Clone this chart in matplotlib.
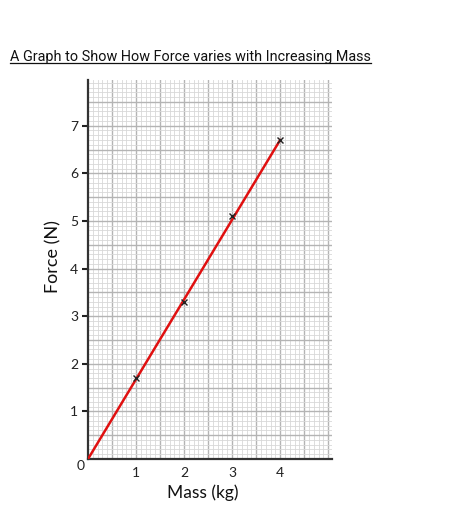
import matplotlib.pyplot as plt
import numpy as np

# measured points
mass = [1, 2, 3, 4]
force = [1.7, 3.3, 5.1, 6.7]
# line of best fit through origin
fit_x = [0, 4]
fit_y = [0, 6.7]

x_ticks = [1, 2, 3, 4]
y_ticks = [1, 2, 3, 4, 5, 6, 7]

plt.rcParams['font.family'] = ['Lato', 'DejaVu Sans']

fig = plt.figure(figsize=(4.74, 5.13), dpi=100)
ax = fig.add_axes([0.1857, 0.1053, 0.5147, 0.7387])
ax.set_xlim(0, 5.08)
ax.set_ylim(0, 7.96)

# graph paper grid
for v in np.arange(0.1, 5.1, 0.1):
    major = abs(v * 2 - round(v * 2)) < 1e-6
    ax.axvline(v, color='#b4b4b4' if major else '#d8d8d8', lw=1.0 if major else 0.6, zorder=0)
for v in np.arange(0.1, 8.0, 0.1):
    major = abs(v * 2 - round(v * 2)) < 1e-6
    ax.axhline(v, color='#b4b4b4' if major else '#d8d8d8', lw=1.0 if major else 0.6, zorder=0)

ax.plot(fit_x, fit_y, color='#e01010', lw=1.8, zorder=3)
ax.plot(mass, force, 'x', color='#222222', ms=4, mew=1.0, zorder=4)

for s in ['top', 'right']:
    ax.spines[s].set_visible(False)
for s in ['left', 'bottom']:
    ax.spines[s].set_color('#333333')
    ax.spines[s].set_linewidth(1.6)

ax.set_xticks(x_ticks)
ax.set_yticks(y_ticks)
ax.tick_params(axis='x', length=0, pad=6, labelsize=10, colors='#222222')
ax.tick_params(axis='y', length=4, width=1.5, pad=3, labelsize=10, colors='#222222')
ax.text(-0.08, -0.02, '0', ha='right', va='top', fontsize=10, color='#222222')

ax.set_xlabel('Mass (kg)', fontsize=12.5, color='#111111', va='center')
ax.xaxis.set_label_coords(0.471, -0.0897)
ax.set_ylabel('Force (N)', fontsize=13, color='#111111', va='center')
ax.yaxis.set_label_coords(-0.143, 0.533)

t = fig.text(10 / 474, 1 - 57 / 513, 'A Graph to Show How Force varies with Increasing Mass',
             fontsize=10.4, va='center', ha='left', color='#111111',
             family=['Roboto', 'DejaVu Sans'])
fig.canvas.draw()
bb = t.get_window_extent()
inv = fig.transFigure.inverted()
(x0, y0), (x1, y1) = inv.transform([[bb.x0, bb.y0], [bb.x1, bb.y1]])
fig.add_artist(plt.Line2D([x0, x1], [y0 + 0.002, y0 + 0.002], color='#111111', lw=0.9,
                          transform=fig.transFigure))

fig.savefig('out.png', dpi=100)
